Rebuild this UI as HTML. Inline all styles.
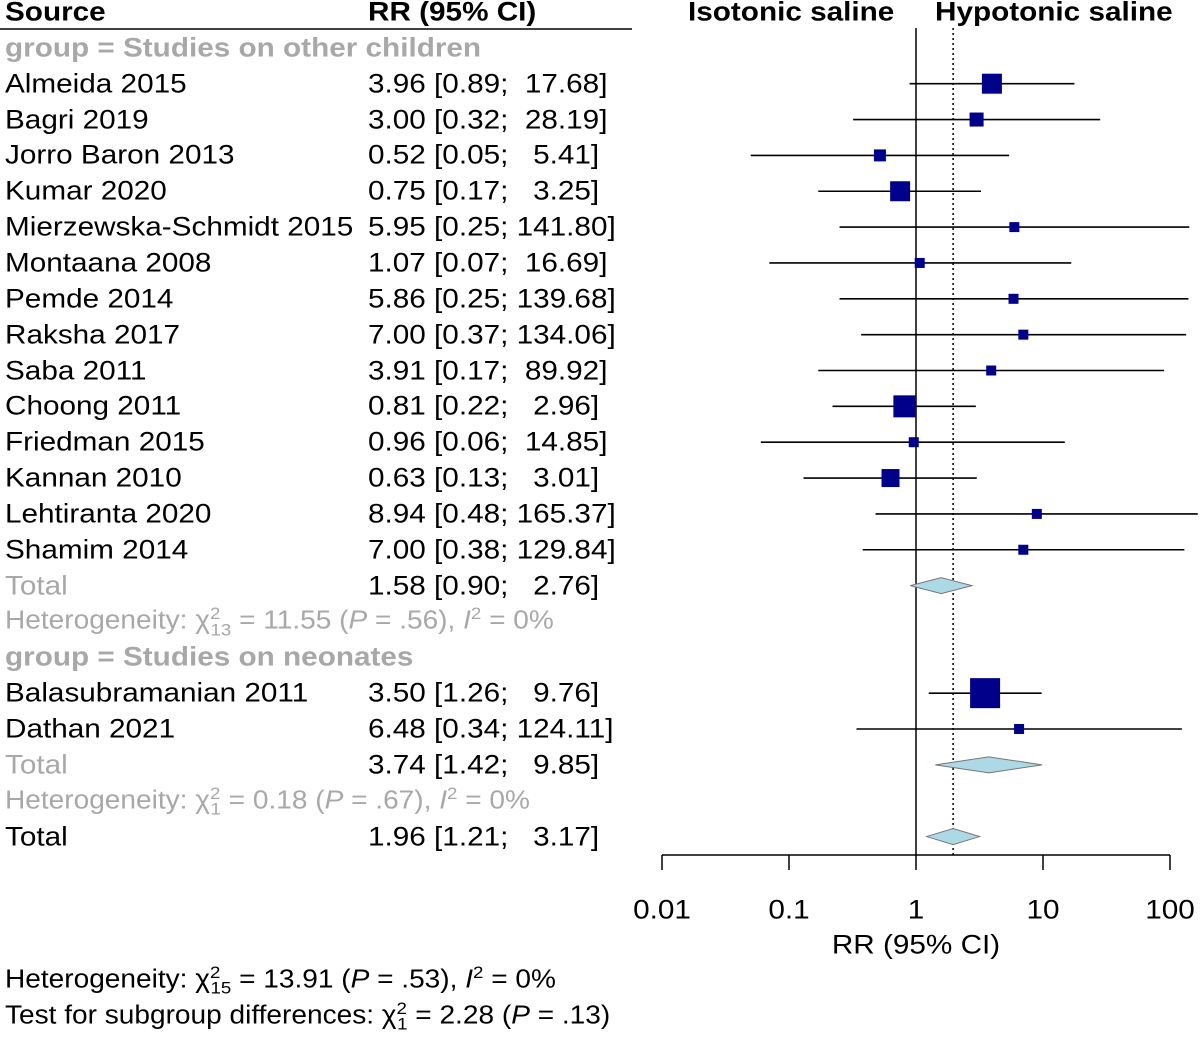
<!DOCTYPE html>
<html><head><meta charset="utf-8"><style>
body{margin:0;background:#fff;width:1200px;height:1037px;overflow:hidden;font-family:"Liberation Sans",sans-serif}
.t{position:absolute;font-size:27px;white-space:pre;line-height:1;transform:translateY(-50%) scaleX(1.1);transform-origin:0 50%}
.g{color:#a8a8a8}.b{font-weight:bold}
sub,sup{font-size:17px;line-height:0}
</style></head><body>
<svg id="chart" width="1200" height="1037" style="position:absolute;left:0;top:0"></svg>
<div id="txt"></div>
<script>
const labels=["Almeida 2015","Bagri 2019","Jorro Baron 2013","Kumar 2020","Mierzewska-Schmidt 2015","Montaana 2008","Pemde 2014","Raksha 2017","Saba 2011","Choong 2011","Friedman 2015","Kannan 2010","Lehtiranta 2020","Shamim 2014","Balasubramanian 2011","Dathan 2021"];
const est=[3.96,3.00,0.52,0.75,5.95,1.07,5.86,7.00,3.91,0.81,0.96,0.63,8.94,7.00,3.50,6.48];
const lower=[0.89,0.32,0.05,0.17,0.25,0.07,0.25,0.37,0.17,0.22,0.06,0.13,0.48,0.38,1.26,0.34];
const upper=[17.68,28.19,5.41,3.25,141.80,16.69,139.68,134.06,89.92,2.96,14.85,3.01,165.37,129.84,9.76,124.11];
const weights=[20,14,12,20,10,10,10,10,10,22,10,18,10,10,30,10];
const rowIdx=[2,3,4,5,6,7,8,9,10,11,12,13,14,15,19,20];
const totalLabels=["Total","Total","Total"];
const totalEst=[1.58,3.74,1.96];
const totalLo=[0.90,1.42,1.21];
const totalHi=[2.76,9.85,3.17];
const totalRow=[16,21,23];
const ticks=[0.01,0.1,1,10,100];
const tickLabels=["0.01","0.1","1","10","100"];

const ns="http://www.w3.org/2000/svg",svg=document.getElementById('chart'),txt=document.getElementById('txt');
const X=v=>916+Math.log10(v)*127;
const Y=r=>12+r*35.85;
function el(tag,a){const e=document.createElementNS(ns,tag);for(const k in a)e.setAttribute(k,a[k]);svg.appendChild(e);return e;}
function T(x,y,h,cls,name){const d=document.createElement('div');d.className='t '+(cls||'');d.style.left=x+'px';d.style.top=y+'px';d.innerHTML=h;


txt.appendChild(d);return d;}
const f=(v,w)=>{let s=v.toFixed(2);while(s.length<w)s=' '+s;return s;};
const ci=(e,l,u)=>f(e,4)+' ['+f(l,4)+'; '+f(u,6)+']';
function C(d){d.style.transform='translate(-50%,-50%) scaleX(1.1)';d.style.transformOrigin='50% 50%';}

T(5,Y(0),'Source','b','source-header');
T(368,Y(0),'RR (95% CI)','b','rr-header');
T(688,Y(0),'Isotonic saline','b','isotonic-label');
T(935,Y(0),'Hypotonic saline','b','hypotonic-label');
let hl=el('line',{x1:0,x2:632,y1:29,y2:29,stroke:'#000','stroke-width':1.5});


T(5,Y(1),'group = Studies on other children','b g','group-other-children');
T(5,Y(18),'group = Studies on neonates','b g','group-neonates');
T(5,Y(17),'Heterogeneity: &chi;<sup>2</sup><sub style="margin-left:-9px">13</sub> = 11.55 (<i>P</i> = .56), <i>I</i><sup>2</sup> = 0%','g','heterogeneity-other').style.fontSize='25.5px';
T(5,Y(22),'Heterogeneity: &chi;<sup>2</sup><sub style="margin-left:-9px">1</sub> = 0.18 (<i>P</i> = .67), <i>I</i><sup>2</sup> = 0%','g','heterogeneity-neonates').style.fontSize='25.5px';
T(5,980,'Heterogeneity: &chi;<sup>2</sup><sub style="margin-left:-9px">15</sub> = 13.91 (<i>P</i> = .53), <i>I</i><sup>2</sup> = 0%','','heterogeneity-overall').style.fontSize='25.5px';
T(5,1016,'Test for subgroup differences: &chi;<sup>2</sup><sub style="margin-left:-9px">1</sub> = 2.28 (<i>P</i> = .13)','','subgroup-test').style.fontSize='25.5px';

let l1=el('line',{x1:X(1),x2:X(1),y1:28,y2:855,stroke:'#000','stroke-width':1.5});


let l2=el('line',{x1:X(totalEst[2]),x2:X(totalEst[2]),y1:28,y2:855,stroke:'#000','stroke-width':1.5,'stroke-dasharray':'2,3'});



for(let i=0;i<labels.length;i++){
  const y=Y(rowIdx[i]);
  T(5,y,labels[i],'','study-label');
  T(368,y,ci(est[i],lower[i],upper[i]),'','study-ci-text');
  const ln=el('line',{x1:Math.max(0,X(lower[i])),x2:Math.min(1200,X(upper[i])),y1:y,y2:y,stroke:'#000','stroke-width':1.6});
  
  
  const s=weights[i];
  const r=el('rect',{x:X(est[i])-s/2,y:y-s/2,width:s,height:s,fill:'#00008b'});
  
  
}
for(let i=0;i<3;i++){
  const y=Y(totalRow[i]);
  T(5,y,totalLabels[i],i<2?'g':'','total-label');
  T(368,y,ci(totalEst[i],totalLo[i],totalHi[i]),'','total-ci-text');
  const p=el('polygon',{points:`${X(totalLo[i])},${y} ${X(totalEst[i])},${y-8} ${X(totalHi[i])},${y} ${X(totalEst[i])},${y+8}`,fill:'#add8e6',stroke:'#777','stroke-width':1});
  
  
}
let ax=el('line',{x1:X(0.01),x2:X(100),y1:855,y2:855,stroke:'#000','stroke-width':1.5});


ticks.forEach((v,i)=>{
  const t=el('line',{x1:X(v),x2:X(v),y1:855,y2:870,stroke:'#000','stroke-width':1.5});
  
  
  C(T(X(v),910,tickLabels[i],'','x-tick-label'));
});
C(T(916,945,'RR (95% CI)','','x-axis-title'));
</script>
</body></html>
